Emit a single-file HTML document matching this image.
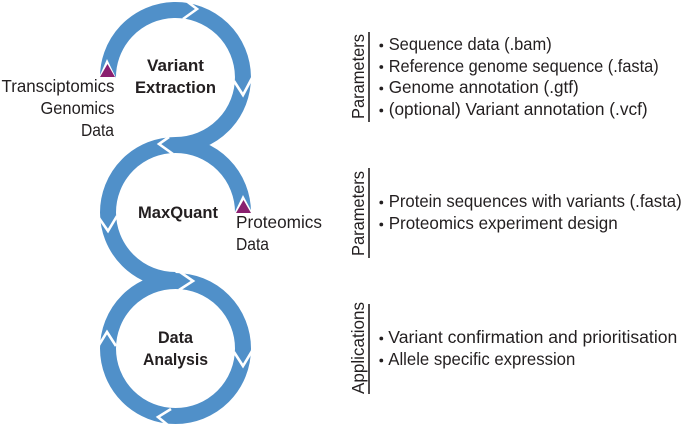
<!DOCTYPE html>
<html><head><meta charset="utf-8"><style>
html,body{margin:0;padding:0;background:#fff;width:685px;height:425px;overflow:hidden}
svg{display:block}
text{font-family:"Liberation Sans",sans-serif;font-size:17.5px;fill:#231f20}
.b{font-weight:bold;font-size:16.5px}
</style></head><body>
<svg width="685" height="425" viewBox="0 0 685 425" xmlns="http://www.w3.org/2000/svg">
<g fill="none" stroke="#5090c9" stroke-width="16">
<path d="M108 80 A67.5 67.5 0 1 1 175.5 145"/>
<path d="M243 212.5 A67.5 67.5 0 0 0 175.5 145 A67.5 67.5 0 0 0 108 212.5 A67.5 67.5 0 0 0 175.5 280"/>
<circle cx="175.5" cy="348.5" r="67.5"/>
</g>
<g fill="none" stroke="#fff" stroke-width="2.6">
<polyline points="185,0 197,9 183,19"/>
<polyline points="234,81 243,95 252,78"/>
<polyline points="169,137 159,144 173,154"/>
<polyline points="99,218 108,231 117,216"/>
<polyline points="180,272 193,281 179,290"/>
<polyline points="234,352 243,366 252,351"/>
<polyline points="171,409 158,417 169,426"/>
<polyline points="99,345 107,332 116,346"/>
</g>
<polygon points="97,82 107,59 118,82" fill="#fff"/>
<polygon points="233,216 243,195 254,216" fill="#fff"/>
<polygon points="100,77 107.5,64 115,77" fill="#8a1f6f"/>
<polygon points="236,213 243.5,200 251,213" fill="#8a1f6f"/>

<text class="b" x="147" y="71" textLength="57" lengthAdjust="spacingAndGlyphs">Variant</text>
<text class="b" x="135" y="93" textLength="81" lengthAdjust="spacingAndGlyphs">Extraction</text>
<text class="b" x="138" y="218" textLength="80" lengthAdjust="spacingAndGlyphs">MaxQuant</text>
<text class="b" x="158" y="343" textLength="35" lengthAdjust="spacingAndGlyphs">Data</text>
<text class="b" x="143" y="365" textLength="65" lengthAdjust="spacingAndGlyphs">Analysis</text>

<text x="1.5" y="92" textLength="113" lengthAdjust="spacingAndGlyphs">Transciptomics</text>
<text x="40.5" y="114" textLength="74" lengthAdjust="spacingAndGlyphs">Genomics</text>
<text x="81" y="136" textLength="33" lengthAdjust="spacingAndGlyphs">Data</text>
<text x="236" y="228" textLength="86" lengthAdjust="spacingAndGlyphs">Proteomics</text>
<text x="236" y="250" textLength="33" lengthAdjust="spacingAndGlyphs">Data</text>

<g stroke="#231f20" stroke-width="1.6">
<line x1="369" y1="32" x2="369" y2="122"/>
<line x1="369" y1="168" x2="369" y2="258"/>
<line x1="369" y1="304" x2="369" y2="394"/>
</g>
<text transform="translate(364 119) rotate(-90)" textLength="85" lengthAdjust="spacingAndGlyphs">Parameters</text>
<text transform="translate(364 256) rotate(-90)" textLength="85" lengthAdjust="spacingAndGlyphs">Parameters</text>
<text transform="translate(364 394) rotate(-90)" textLength="92" lengthAdjust="spacingAndGlyphs">Applications</text>

<g fill="#231f20">
<circle cx="381.3" cy="45.5" r="1.9"/><circle cx="381.3" cy="67" r="1.9"/><circle cx="381.3" cy="88.5" r="1.9"/><circle cx="381.3" cy="110.5" r="1.9"/>
<circle cx="381.3" cy="202.5" r="1.9"/><circle cx="381.3" cy="224.5" r="1.9"/>
<circle cx="381.3" cy="338.5" r="1.9"/><circle cx="381.3" cy="360.5" r="1.9"/>
</g>
<text x="388.7" y="50" textLength="163" lengthAdjust="spacingAndGlyphs">Sequence data (.bam)</text>
<text x="388.7" y="72" textLength="270" lengthAdjust="spacingAndGlyphs">Reference genome sequence (.fasta)</text>
<text x="388.7" y="93" textLength="190" lengthAdjust="spacingAndGlyphs">Genome annotation (.gtf)</text>
<text x="388.7" y="115" textLength="259" lengthAdjust="spacingAndGlyphs">(optional) Variant annotation (.vcf)</text>
<text x="388.7" y="207" textLength="293" lengthAdjust="spacingAndGlyphs">Protein sequences with variants (.fasta)</text>
<text x="388.7" y="229" textLength="229" lengthAdjust="spacingAndGlyphs">Proteomics experiment design</text>
<text x="388.3" y="343" textLength="289" lengthAdjust="spacingAndGlyphs">Variant confirmation and prioritisation</text>
<text x="388.3" y="365" textLength="187" lengthAdjust="spacingAndGlyphs">Allele specific expression</text>
</svg>
</body></html>
